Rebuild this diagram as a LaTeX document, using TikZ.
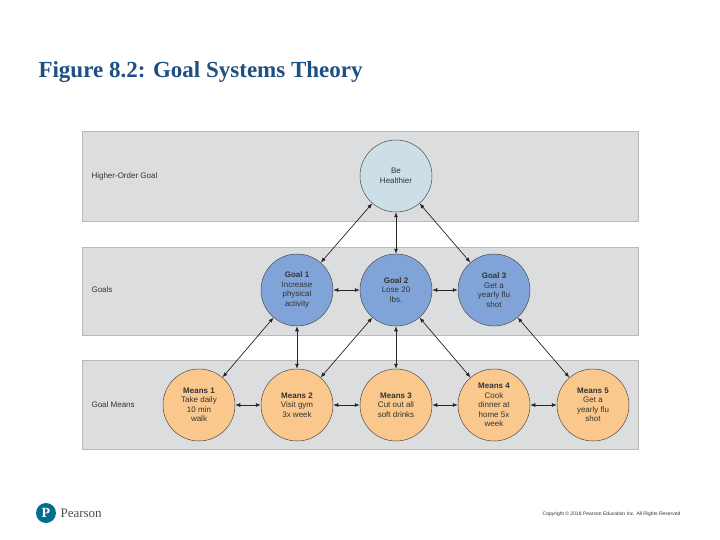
\documentclass[tikz,border=0pt]{standalone}
\usepackage{fontspec}
\usetikzlibrary{arrows.meta}
\setmainfont{Liberation Sans}
\newfontfamily\titlefont{Liberation Serif}
\definecolor{topc}{RGB}{205,223,230}
\definecolor{goalc}{RGB}{128,164,216}
\definecolor{meanc}{RGB}{250,200,140}
\definecolor{bandc}{RGB}{220,221,222}
\definecolor{titlec}{RGB}{30,80,130}
\begin{document}
\begin{tikzpicture}[x=1pt,y=-1pt,
  band/.style={fill=bandc,draw=gray!55,line width=0.4pt},
  circ/.style={circle,draw=black!70,line width=0.5pt,minimum size=72pt,inner sep=0pt,align=center,font=\fontsize{8}{9.5}\selectfont,text=black!80},
  top/.style={circ,fill=topc},
  goal/.style={circ,fill=goalc},
  means/.style={circ,fill=meanc},
  lab/.style={anchor=west,font=\fontsize{8}{9.5}\selectfont,text=black!80},
  link/.style={{Latex[length=5pt,width=4pt]}-{Latex[length=5pt,width=4pt]},line width=0.7pt,black!85}]
\useasboundingbox (0,0) rectangle (720,540);
\fill[white] (0,0) rectangle (720,540);
\node[anchor=west,font=\titlefont\bfseries\fontsize{23}{26}\selectfont,text=titlec] (title) at (35,72) {Figure 8.2: Goal Systems Theory};
\draw[band] (82,131) rectangle (638,221);
\draw[band] (82,247) rectangle (638,335);
\draw[band] (82,360) rectangle (638,449);
\node[lab] (l1) at (88,176) {Higher-Order Goal};
\node[lab] (l2) at (88,290) {Goals};
\node[lab] (l3) at (88,405) {Goal Means};
\node[top] (bh) at (396,176) {Be\\Healthier};
\node[goal] (g1) at (297,290) {\textbf{Goal 1}\\Increase\\physical\\activity};
\node[goal] (g2) at (396,290) {\textbf{Goal 2}\\Lose 20\\lbs.};
\node[goal] (g3) at (494,290) {\textbf{Goal 3}\\Get a\\yearly flu\\shot};
\node[means] (m1) at (199,405) {\textbf{Means 1}\\Take daily\\10 min\\walk};
\node[means] (m2) at (297,405) {\textbf{Means 2}\\Visit gym\\3x week};
\node[means] (m3) at (396,405) {\textbf{Means 3}\\Cut out all\\soft drinks};
\node[means] (m4) at (494,405) {\textbf{Means 4}\\Cook\\dinner at\\home 5x\\week};
\node[means] (m5) at (593,405) {\textbf{Means 5}\\Get a\\yearly flu\\shot};
\draw[link] (bh) -- (g1);
\draw[link] (bh) -- (g2);
\draw[link] (bh) -- (g3);
\draw[link] (g1) -- (g2);
\draw[link] (g2) -- (g3);
\draw[link] (m1) -- (m2);
\draw[link] (m2) -- (m3);
\draw[link] (m3) -- (m4);
\draw[link] (m4) -- (m5);
\draw[link] (g1) -- (m1);
\draw[link] (g1) -- (m2);
\draw[link] (g2) -- (m2);
\draw[link] (g2) -- (m3);
\draw[link] (g2) -- (m4);
\draw[link] (g3) -- (m5);
\node[circle,fill={rgb,255:red,0;green,110;blue,140},minimum size=20pt,inner sep=0pt,text=white,font=\titlefont\bfseries\fontsize{14}{14}\selectfont] (logo) at (46,513) {P};
\node[anchor=west,font=\titlefont\fontsize{13}{14}\selectfont,text=black!70] (pearson) at (57,513) {Pearson};
\node[anchor=east,font=\fontsize{5}{6}\selectfont,text=black!80] (copy) at (684,514) {Copyright © 2018 Pearson Education Inc. All Rights Reserved};
\end{tikzpicture}
\end{document}
